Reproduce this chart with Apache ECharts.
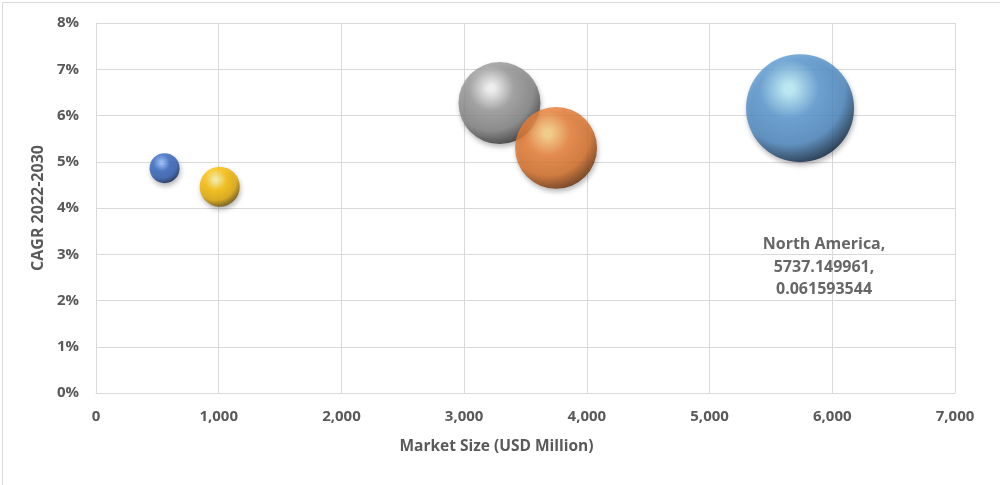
<!DOCTYPE html>
<html>
<head>
<meta charset="utf-8">
<script src="https://cdn.jsdelivr.net/npm/echarts@6/dist/echarts.min.js"></script>
<style>
html,body{margin:0;padding:0;background:#fff;}
#chart{width:1000px;height:485px;}
</style>
</head>
<body>
<div id="chart"></div>
<script>
// Data
const regions = ['North America', 'Asia Pacific', 'Europe', 'Latin America', 'Middle East & Africa'];
const marketSize = [5737.149961, 3288, 3749, 1008, 559];
const cagr = [0.061593544, 0.0627, 0.0530, 0.0446, 0.0486];
const bubbleValue = [2916, 1680, 1680, 400, 225];
const xTicks = [0, 1000, 2000, 3000, 4000, 5000, 6000, 7000];
const yTicks = [0, 0.01, 0.02, 0.03, 0.04, 0.05, 0.06, 0.07, 0.08];

const palette = [
  ['#bdf2ff', '#5b9bd5', '#4a86c0', '#0d2640'],
  ['#fafafa', '#9c9c9c', '#808080', '#333333'],
  ['#ffd080', '#ee8036', '#d56d24', '#6a2e06'],
  ['#fff59e', '#ffc000', '#e0a800', '#6a4e00'],
  ['#8fbcff', '#3366c4', '#2a58ad', '#0c2352']
];
function grad(c) {
  return {
    type: 'radial', x: 0.4, y: 0.32, r: 0.72,
    colorStops: [
      {offset: 0, color: c[0]},
      {offset: 0.06, color: c[0]},
      {offset: 0.38, color: c[1]},
      {offset: 0.72, color: c[2]},
      {offset: 0.97, color: c[3]}
    ]
  };
}

const data = regions.map((r, i) => ({
  name: r,
  value: [marketSize[i], cagr[i], bubbleValue[i]],
  itemStyle: {color: grad(palette[i])},
  label: i === 0 ? {
    show: true,
    position: 'inside',
    offset: [24, 159],
    formatter: p => p.name + ',\n' + p.value[0] + ',\n' + p.value[1],
    fontFamily: 'Open Sans, Liberation Sans, sans-serif',
    fontWeight: 'bold',
    fontSize: 16,
    lineHeight: 22.5,
    color: '#404040'
  } : {show: false}
}));

const axisText = {color: '#595959', fontSize: 15, fontWeight: 'bold', fontFamily: 'Open Sans, Liberation Sans, sans-serif'};

const chart = echarts.init(document.getElementById('chart'));
chart.setOption({
  backgroundColor: '#fff',
  animation: false,
  graphic: [{
    type: 'rect', left: 0, top: 0, silent: true,
    shape: {x: 0.5, y: 0.5, width: 999, height: 484},
    style: {fill: 'none', stroke: '#d9d9d9', lineWidth: 1}
  }],
  grid: {left: 96, right: 45, top: 23, bottom: 92},
  xAxis: {
    type: 'value', min: xTicks[0], max: xTicks[xTicks.length - 1], interval: 1000,
    name: 'Market Size (USD Million)', nameLocation: 'middle', nameGap: 46,
    nameTextStyle: Object.assign({}, axisText, {fontSize: 15.5, padding: [0, 58, 0, 0]}),
    axisLine: {show: true, lineStyle: {color: '#d9d9d9'}},
    axisTick: {show: false},
    axisLabel: Object.assign({}, axisText, {margin: 16, formatter: v => v.toLocaleString('en-US')}),
    splitLine: {show: true, lineStyle: {color: '#d9d9d9'}}
  },
  yAxis: {
    type: 'value', min: yTicks[0], max: yTicks[yTicks.length - 1], interval: 0.01,
    name: 'CAGR 2022-2030', nameLocation: 'middle', nameGap: 49, nameRotate: 90,
    nameTextStyle: Object.assign({}, axisText, {fontSize: 16}),
    axisLine: {show: true, lineStyle: {color: '#d9d9d9'}},
    axisTick: {show: false},
    axisLabel: Object.assign({}, axisText, {margin: 17, formatter: v => Math.round(v * 100) + '%'}),
    splitLine: {show: true, lineStyle: {color: '#d9d9d9'}}
  },
  series: [{
    type: 'scatter',
    data: data,
    symbolSize: v => 2 * Math.sqrt(v[2]),
    itemStyle: {shadowBlur: 5, shadowOffsetX: 1, shadowOffsetY: 3, shadowColor: 'rgba(0,0,0,0.35)'},
    emphasis: {disabled: true}
  }]
});
</script>
</body>
</html>
